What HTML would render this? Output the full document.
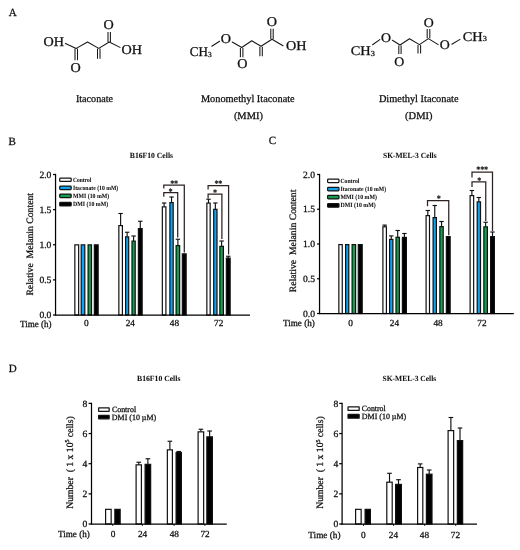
<!DOCTYPE html>
<html lang="en">
<head>
<meta charset="utf-8">
<title>Itaconate derivatives and melanin content</title>
<style>
html,body{margin:0;padding:0;background:#fff;}
body{width:520px;height:550px;overflow:hidden;}
svg{display:block;}
svg text{font-family:"Liberation Serif", serif;text-rendering:geometricPrecision;fill:#111;stroke:#111;stroke-width:0.28px;stroke-linejoin:round;}
svg text[font-weight=bold]{stroke-width:0.05px;}
</style>
</head>
<body>
<svg width="520" height="550" viewBox="0 0 520 550">
<rect x="0" y="0" width="520" height="550" fill="#ffffff"/>
<g id="panel-letters">
<text x="8.8" y="15.5" font-size="11">A</text>
<text x="8.5" y="144.5" font-size="11">B</text>
<text x="268.8" y="144.4" font-size="11">C</text>
<text x="8.8" y="371.6" font-size="11">D</text>
</g>
<g id="itaconate">
<text transform="translate(43.5,46.4) scale(1.05,1)" font-size="13.5">OH</text>
<line x1="65.4" y1="43.4" x2="76.25" y2="48.4" stroke="#151515" stroke-width="1.05" stroke-linecap="round"/>
<line x1="75.0" y1="48.6" x2="75.0" y2="60.2" stroke="#151515" stroke-width="1.05" stroke-linecap="butt"/>
<line x1="77.5" y1="48.6" x2="77.5" y2="60.2" stroke="#151515" stroke-width="1.05" stroke-linecap="butt"/>
<text transform="translate(70.5,72.0) scale(1.05,1)" font-size="13.5">O</text>
<polyline points="76.25,48.4 87.5,42.0 98.75,48.4 109.25,42.0 120.0,47.4" fill="none" stroke="#151515" stroke-width="1.05" stroke-linejoin="round" stroke-linecap="round"/>
<line x1="97.5" y1="48.6" x2="97.5" y2="58.8" stroke="#151515" stroke-width="1.05" stroke-linecap="butt"/>
<line x1="100.0" y1="48.6" x2="100.0" y2="58.8" stroke="#151515" stroke-width="1.05" stroke-linecap="butt"/>
<line x1="108.0" y1="32.0" x2="108.0" y2="42.0" stroke="#151515" stroke-width="1.05" stroke-linecap="butt"/>
<line x1="110.4" y1="32.0" x2="110.4" y2="42.0" stroke="#151515" stroke-width="1.05" stroke-linecap="butt"/>
<text transform="translate(103.45,29.4) scale(1.05,1)" font-size="13.5">O</text>
<text transform="translate(121.5,53.8) scale(1.05,1)" font-size="13.5">OH</text>
</g>
<g id="mmi">
<text transform="translate(189.75,56.0) scale(0.97,1)" font-size="13.5">CH<tspan font-size="7.6" dy="0.6">3</tspan></text>
<line x1="211.8" y1="46.2" x2="219.6" y2="41.2" stroke="#151515" stroke-width="1.05" stroke-linecap="round"/>
<text transform="translate(220.75,42.5) scale(1.05,1)" font-size="13.5">O</text>
<polyline points="232.2,42.0 241.75,47.5 251.75,40.75 261.0,46.3 272.0,39.3 283.0,45.7" fill="none" stroke="#151515" stroke-width="1.05" stroke-linejoin="round" stroke-linecap="round"/>
<line x1="240.4" y1="47.9" x2="240.4" y2="57.2" stroke="#151515" stroke-width="1.05" stroke-linecap="butt"/>
<line x1="242.9" y1="47.9" x2="242.9" y2="57.2" stroke="#151515" stroke-width="1.05" stroke-linecap="butt"/>
<text transform="translate(237.25,67.8) scale(1.05,1)" font-size="13.5">O</text>
<line x1="259.9" y1="46.8" x2="259.9" y2="56.2" stroke="#151515" stroke-width="1.05" stroke-linecap="butt"/>
<line x1="262.3" y1="46.8" x2="262.3" y2="56.2" stroke="#151515" stroke-width="1.05" stroke-linecap="butt"/>
<line x1="270.8" y1="28.8" x2="270.8" y2="39.0" stroke="#151515" stroke-width="1.05" stroke-linecap="butt"/>
<line x1="273.2" y1="28.8" x2="273.2" y2="39.0" stroke="#151515" stroke-width="1.05" stroke-linecap="butt"/>
<text transform="translate(266.75,26.3) scale(1.05,1)" font-size="13.5">O</text>
<text transform="translate(286.0,50.3) scale(1.05,1)" font-size="13.5">OH</text>
</g>
<g id="dmi">
<text transform="translate(350.75,55.1) scale(1.09,1)" font-size="13.2">CH<tspan font-size="7.6" dy="0.6">3</tspan></text>
<line x1="372.6" y1="44.8" x2="379.8" y2="39.6" stroke="#151515" stroke-width="1.05" stroke-linecap="round"/>
<text transform="translate(381.05,41.8) scale(1.05,1)" font-size="13.2">O</text>
<polyline points="392.4,40.3 400.0,45.0 409.5,38.8 419.4,44.6 428.4,38.6 438.2,44.6" fill="none" stroke="#151515" stroke-width="1.05" stroke-linejoin="round" stroke-linecap="round"/>
<line x1="398.8" y1="45.4" x2="398.8" y2="53.9" stroke="#151515" stroke-width="1.05" stroke-linecap="butt"/>
<line x1="401.1" y1="45.4" x2="401.1" y2="53.9" stroke="#151515" stroke-width="1.05" stroke-linecap="butt"/>
<text transform="translate(394.25,65.8) scale(1.05,1)" font-size="13.2">O</text>
<line x1="418.0" y1="45.0" x2="418.0" y2="53.6" stroke="#151515" stroke-width="1.05" stroke-linecap="butt"/>
<line x1="420.6" y1="45.0" x2="420.6" y2="53.6" stroke="#151515" stroke-width="1.05" stroke-linecap="butt"/>
<line x1="427.2" y1="28.9" x2="427.2" y2="38.2" stroke="#151515" stroke-width="1.05" stroke-linecap="butt"/>
<line x1="429.8" y1="28.9" x2="429.8" y2="38.2" stroke="#151515" stroke-width="1.05" stroke-linecap="butt"/>
<text transform="translate(423.65,26.6) scale(1.05,1)" font-size="13.2">O</text>
<text transform="translate(439.65,49.2) scale(1.05,1)" font-size="13.2">O</text>
<line x1="451.9" y1="44.3" x2="460.0" y2="39.4" stroke="#151515" stroke-width="1.05" stroke-linecap="round"/>
<text transform="translate(462.75,40.7) scale(1.09,1)" font-size="13.2">CH<tspan font-size="7.6" dy="0.6">3</tspan></text>
</g>
<g id="mol-names">
<text x="75.9" y="101.9" font-size="10.4" textLength="37.2" lengthAdjust="spacingAndGlyphs">Itaconate</text>
<text x="200.9" y="101.9" font-size="10.4" textLength="93.8" lengthAdjust="spacingAndGlyphs">Monomethyl Itaconate</text>
<text x="233.9" y="118.7" font-size="10.4" textLength="29.0" lengthAdjust="spacingAndGlyphs">(MMI)</text>
<text x="378.9" y="101.9" font-size="10.4" textLength="79.6" lengthAdjust="spacingAndGlyphs">Dimethyl Itaconate</text>
<text x="405.1" y="118.7" font-size="10.4" textLength="27.4" lengthAdjust="spacingAndGlyphs">(DMI)</text>
</g>
<g id="chartB">
<text x="129.8" y="158.2" font-size="7.8" font-weight="bold" textLength="43.2" lengthAdjust="spacingAndGlyphs">B16F10 Cells</text>
<rect x="74.85" y="244.85" width="3.8" height="70.15" fill="#ffffff" stroke="#111" stroke-width="1.2"/>
<rect x="81.2" y="244.85" width="3.6" height="70.15" fill="#10a3f0" stroke="#111" stroke-width="1.2"/>
<rect x="88.1" y="244.85" width="3.4" height="70.15" fill="#12a04e" stroke="#111" stroke-width="1.2"/>
<rect x="94.35" y="244.85" width="3.8" height="70.15" fill="#000000" stroke="#111" stroke-width="1.2"/>
<line x1="120.62" y1="213.5" x2="120.62" y2="225.5" stroke="#111" stroke-width="1.15" stroke-linecap="butt"/>
<line x1="118.42" y1="213.5" x2="122.82" y2="213.5" stroke="#111" stroke-width="1.15" stroke-linecap="butt"/>
<rect x="118.85" y="225.6" width="3.55" height="89.4" fill="#ffffff" stroke="#111" stroke-width="1.2"/>
<line x1="127.15" y1="232.25" x2="127.15" y2="236.75" stroke="#111" stroke-width="1.15" stroke-linecap="butt"/>
<line x1="124.95" y1="232.25" x2="129.35" y2="232.25" stroke="#111" stroke-width="1.15" stroke-linecap="butt"/>
<rect x="125.6" y="236.85" width="3.1" height="78.15" fill="#10a3f0" stroke="#111" stroke-width="1.2"/>
<line x1="133.6" y1="236.0" x2="133.6" y2="241.0" stroke="#111" stroke-width="1.15" stroke-linecap="butt"/>
<line x1="131.4" y1="236.0" x2="135.8" y2="236.0" stroke="#111" stroke-width="1.15" stroke-linecap="butt"/>
<rect x="132.0" y="241.1" width="3.2" height="73.9" fill="#12a04e" stroke="#111" stroke-width="1.2"/>
<line x1="140.28" y1="221.25" x2="140.28" y2="228.5" stroke="#111" stroke-width="1.15" stroke-linecap="butt"/>
<line x1="138.08" y1="221.25" x2="142.48" y2="221.25" stroke="#111" stroke-width="1.15" stroke-linecap="butt"/>
<rect x="138.4" y="228.6" width="3.75" height="86.4" fill="#000000" stroke="#111" stroke-width="1.2"/>
<line x1="164.12" y1="203.0" x2="164.12" y2="206.75" stroke="#111" stroke-width="1.15" stroke-linecap="butt"/>
<line x1="161.92" y1="203.0" x2="166.32" y2="203.0" stroke="#111" stroke-width="1.15" stroke-linecap="butt"/>
<rect x="162.35" y="206.85" width="3.55" height="108.15" fill="#ffffff" stroke="#111" stroke-width="1.2"/>
<line x1="171.55" y1="197.0" x2="171.55" y2="202.5" stroke="#111" stroke-width="1.15" stroke-linecap="butt"/>
<line x1="169.35" y1="197.0" x2="173.75" y2="197.0" stroke="#111" stroke-width="1.15" stroke-linecap="butt"/>
<rect x="169.9" y="202.6" width="3.3" height="112.4" fill="#10a3f0" stroke="#111" stroke-width="1.2"/>
<line x1="177.88" y1="239.25" x2="177.88" y2="245.5" stroke="#111" stroke-width="1.15" stroke-linecap="butt"/>
<line x1="175.68" y1="239.25" x2="180.08" y2="239.25" stroke="#111" stroke-width="1.15" stroke-linecap="butt"/>
<rect x="176.1" y="245.6" width="3.55" height="69.4" fill="#12a04e" stroke="#111" stroke-width="1.2"/>
<rect x="182.35" y="253.85" width="3.8" height="61.15" fill="#000000" stroke="#111" stroke-width="1.2"/>
<line x1="208.5" y1="199.25" x2="208.5" y2="203.0" stroke="#111" stroke-width="1.15" stroke-linecap="butt"/>
<line x1="206.3" y1="199.25" x2="210.7" y2="199.25" stroke="#111" stroke-width="1.15" stroke-linecap="butt"/>
<rect x="206.85" y="203.1" width="3.3" height="111.9" fill="#ffffff" stroke="#111" stroke-width="1.2"/>
<line x1="215.35" y1="203.0" x2="215.35" y2="209.25" stroke="#111" stroke-width="1.15" stroke-linecap="butt"/>
<line x1="213.15" y1="203.0" x2="217.55" y2="203.0" stroke="#111" stroke-width="1.15" stroke-linecap="butt"/>
<rect x="213.7" y="209.35" width="3.3" height="105.65" fill="#10a3f0" stroke="#111" stroke-width="1.2"/>
<line x1="221.62" y1="241.0" x2="221.62" y2="246.25" stroke="#111" stroke-width="1.15" stroke-linecap="butt"/>
<line x1="219.42" y1="241.0" x2="223.82" y2="241.0" stroke="#111" stroke-width="1.15" stroke-linecap="butt"/>
<rect x="219.85" y="246.35" width="3.55" height="68.65" fill="#12a04e" stroke="#111" stroke-width="1.2"/>
<line x1="228.25" y1="256.25" x2="228.25" y2="258.0" stroke="#111" stroke-width="1.15" stroke-linecap="butt"/>
<line x1="226.05" y1="256.25" x2="230.45" y2="256.25" stroke="#111" stroke-width="1.15" stroke-linecap="butt"/>
<rect x="226.35" y="258.1" width="3.8" height="56.9" fill="#000000" stroke="#111" stroke-width="1.2"/>
<line x1="55.55" y1="173.875" x2="55.55" y2="315.625" stroke="#000" stroke-width="1.25" stroke-linecap="butt"/>
<line x1="54.925" y1="315.0" x2="250.0" y2="315.0" stroke="#000" stroke-width="1.25" stroke-linecap="butt"/>
<line x1="53.0" y1="174.5" x2="55.55" y2="174.5" stroke="#000" stroke-width="1.25" stroke-linecap="butt"/>
<text x="51.4" y="177.6" font-size="9.6" text-anchor="end">2.0</text>
<line x1="53.0" y1="209.6" x2="55.55" y2="209.6" stroke="#000" stroke-width="1.25" stroke-linecap="butt"/>
<text x="51.4" y="212.7" font-size="9.6" text-anchor="end">1.5</text>
<line x1="53.0" y1="244.75" x2="55.55" y2="244.75" stroke="#000" stroke-width="1.25" stroke-linecap="butt"/>
<text x="51.4" y="247.85" font-size="9.6" text-anchor="end">1.0</text>
<line x1="53.0" y1="279.9" x2="55.55" y2="279.9" stroke="#000" stroke-width="1.25" stroke-linecap="butt"/>
<text x="51.4" y="283.0" font-size="9.6" text-anchor="end">0.5</text>
<line x1="53.0" y1="315.0" x2="55.55" y2="315.0" stroke="#000" stroke-width="1.25" stroke-linecap="butt"/>
<text x="51.4" y="318.1" font-size="9.6" text-anchor="end">0.0</text>
<polyline points="163.8,188.6 163.8,185.0 184.3,185.0 184.3,252.6" fill="none" stroke="#2e2322" stroke-width="1.25" stroke-linejoin="miter"/>
<polyline points="163.8,196.8 163.8,192.6 177.7,192.6 177.7,237.6" fill="none" stroke="#2e2322" stroke-width="1.25" stroke-linejoin="miter"/>
<polyline points="208.1,189.4 208.1,185.5 228.6,185.5 228.6,254.6" fill="none" stroke="#2e2322" stroke-width="1.25" stroke-linejoin="miter"/>
<polyline points="208.1,198.4 208.1,194.0 221.9,194.0 221.9,238.9" fill="none" stroke="#2e2322" stroke-width="1.25" stroke-linejoin="miter"/>
<text x="174.1" y="185.9" font-size="8.2" text-anchor="middle" font-weight="bold" letter-spacing="-0.2" style="stroke-width:0.18px;fill:#1a1212;stroke:#1a1212">**</text>
<text x="170.5" y="193.7" font-size="8.2" text-anchor="middle" font-weight="bold" letter-spacing="-0.2" style="stroke-width:0.18px;fill:#1a1212;stroke:#1a1212">*</text>
<text x="218.3" y="186.4" font-size="8.2" text-anchor="middle" font-weight="bold" letter-spacing="-0.2" style="stroke-width:0.18px;fill:#1a1212;stroke:#1a1212">**</text>
<text x="214.9" y="194.9" font-size="8.2" text-anchor="middle" font-weight="bold" letter-spacing="-0.2" style="stroke-width:0.18px;fill:#1a1212;stroke:#1a1212">*</text>
<rect x="59.73" y="178.03" width="11.45" height="3.45" rx="0.8" fill="#ffffff" stroke="#151515" stroke-width="1.25"/>
<text x="73.0" y="181.75" font-size="6.4" font-weight="bold" textLength="18.2" lengthAdjust="spacingAndGlyphs">Control</text>
<rect x="59.73" y="186.12" width="11.45" height="3.45" rx="0.8" fill="#10a3f0" stroke="#151515" stroke-width="1.25"/>
<text x="73.0" y="189.85" font-size="6.4" font-weight="bold" textLength="45.2" lengthAdjust="spacingAndGlyphs">Itaconate (10 mM)</text>
<rect x="59.73" y="194.12" width="11.45" height="3.45" rx="0.8" fill="#12a04e" stroke="#151515" stroke-width="1.25"/>
<text x="73.0" y="197.85" font-size="6.4" font-weight="bold" textLength="36.2" lengthAdjust="spacingAndGlyphs">MMI (10 mM)</text>
<rect x="59.73" y="202.32" width="11.45" height="3.65" rx="0.8" fill="#000000" stroke="#151515" stroke-width="1.25"/>
<text x="73.0" y="206.15" font-size="6.4" font-weight="bold" textLength="35.2" lengthAdjust="spacingAndGlyphs">DMI (10 mM)</text>
<text x="20.0" y="326.9" font-size="9.3" textLength="31.6" lengthAdjust="spacingAndGlyphs">Time (h)</text>
<text x="86.3" y="326.3" font-size="9.3" text-anchor="middle">0</text>
<text x="130.3" y="326.3" font-size="9.3" text-anchor="middle">24</text>
<text x="174.4" y="326.3" font-size="9.3" text-anchor="middle">48</text>
<text x="218.7" y="326.3" font-size="9.3" text-anchor="middle">72</text>
<text transform="translate(33.2,295.6) rotate(-90)" font-size="9.7" textLength="102.6" lengthAdjust="spacingAndGlyphs" xml:space="preserve">Relative  Melanin Content</text>
</g>
<g id="chartC">
<text x="383.0" y="157.8" font-size="7.8" font-weight="bold" textLength="53.6" lengthAdjust="spacingAndGlyphs">SK-MEL-3 Cells</text>
<rect x="338.85" y="244.6" width="3.4" height="68.9" fill="#ffffff" stroke="#111" stroke-width="1.2"/>
<rect x="345.6" y="244.6" width="3.2" height="68.9" fill="#10a3f0" stroke="#111" stroke-width="1.2"/>
<rect x="352.1" y="244.6" width="3.5" height="68.9" fill="#12a04e" stroke="#111" stroke-width="1.2"/>
<rect x="358.3" y="244.6" width="3.9" height="68.9" fill="#000000" stroke="#111" stroke-width="1.2"/>
<line x1="384.65" y1="225.1" x2="384.65" y2="226.7" stroke="#111" stroke-width="1.15" stroke-linecap="butt"/>
<line x1="382.45" y1="225.1" x2="386.85" y2="225.1" stroke="#111" stroke-width="1.15" stroke-linecap="butt"/>
<rect x="382.9" y="226.8" width="3.5" height="86.7" fill="#ffffff" stroke="#111" stroke-width="1.2"/>
<line x1="391.25" y1="235.9" x2="391.25" y2="239.3" stroke="#111" stroke-width="1.15" stroke-linecap="butt"/>
<line x1="389.05" y1="235.9" x2="393.45" y2="235.9" stroke="#111" stroke-width="1.15" stroke-linecap="butt"/>
<rect x="389.6" y="239.4" width="3.3" height="74.1" fill="#10a3f0" stroke="#111" stroke-width="1.2"/>
<line x1="397.7" y1="230.5" x2="397.7" y2="237.2" stroke="#111" stroke-width="1.15" stroke-linecap="butt"/>
<line x1="395.5" y1="230.5" x2="399.9" y2="230.5" stroke="#111" stroke-width="1.15" stroke-linecap="butt"/>
<rect x="396.0" y="237.3" width="3.4" height="76.2" fill="#12a04e" stroke="#111" stroke-width="1.2"/>
<line x1="404.4" y1="233.5" x2="404.4" y2="237.3" stroke="#111" stroke-width="1.15" stroke-linecap="butt"/>
<line x1="402.2" y1="233.5" x2="406.6" y2="233.5" stroke="#111" stroke-width="1.15" stroke-linecap="butt"/>
<rect x="402.4" y="237.4" width="4.0" height="76.1" fill="#000000" stroke="#111" stroke-width="1.2"/>
<line x1="427.8" y1="210.5" x2="427.8" y2="215.5" stroke="#111" stroke-width="1.15" stroke-linecap="butt"/>
<line x1="425.6" y1="210.5" x2="430.0" y2="210.5" stroke="#111" stroke-width="1.15" stroke-linecap="butt"/>
<rect x="426.1" y="215.6" width="3.4" height="97.9" fill="#ffffff" stroke="#111" stroke-width="1.2"/>
<line x1="434.75" y1="205.5" x2="434.75" y2="217.5" stroke="#111" stroke-width="1.15" stroke-linecap="butt"/>
<line x1="432.55" y1="205.5" x2="436.95" y2="205.5" stroke="#111" stroke-width="1.15" stroke-linecap="butt"/>
<rect x="433.1" y="217.6" width="3.3" height="95.9" fill="#10a3f0" stroke="#111" stroke-width="1.2"/>
<line x1="441.52" y1="221.5" x2="441.52" y2="226.5" stroke="#111" stroke-width="1.15" stroke-linecap="butt"/>
<line x1="439.32" y1="221.5" x2="443.72" y2="221.5" stroke="#111" stroke-width="1.15" stroke-linecap="butt"/>
<rect x="439.85" y="226.6" width="3.35" height="86.9" fill="#12a04e" stroke="#111" stroke-width="1.2"/>
<rect x="446.35" y="236.6" width="3.8" height="76.9" fill="#000000" stroke="#111" stroke-width="1.2"/>
<line x1="471.88" y1="190.5" x2="471.88" y2="195.5" stroke="#111" stroke-width="1.15" stroke-linecap="butt"/>
<line x1="469.68" y1="190.5" x2="474.08" y2="190.5" stroke="#111" stroke-width="1.15" stroke-linecap="butt"/>
<rect x="470.1" y="195.6" width="3.55" height="117.9" fill="#ffffff" stroke="#111" stroke-width="1.2"/>
<line x1="478.85" y1="197.5" x2="478.85" y2="201.75" stroke="#111" stroke-width="1.15" stroke-linecap="butt"/>
<line x1="476.65" y1="197.5" x2="481.05" y2="197.5" stroke="#111" stroke-width="1.15" stroke-linecap="butt"/>
<rect x="477.2" y="201.85" width="3.3" height="111.65" fill="#10a3f0" stroke="#111" stroke-width="1.2"/>
<line x1="485.62" y1="222.25" x2="485.62" y2="226.75" stroke="#111" stroke-width="1.15" stroke-linecap="butt"/>
<line x1="483.42" y1="222.25" x2="487.82" y2="222.25" stroke="#111" stroke-width="1.15" stroke-linecap="butt"/>
<rect x="483.85" y="226.85" width="3.55" height="86.65" fill="#12a04e" stroke="#111" stroke-width="1.2"/>
<line x1="492.5" y1="232.0" x2="492.5" y2="236.5" stroke="#111" stroke-width="1.15" stroke-linecap="butt"/>
<line x1="490.3" y1="232.0" x2="494.7" y2="232.0" stroke="#111" stroke-width="1.15" stroke-linecap="butt"/>
<rect x="490.6" y="236.6" width="3.8" height="76.9" fill="#000000" stroke="#111" stroke-width="1.2"/>
<line x1="319.55" y1="173.875" x2="319.55" y2="314.125" stroke="#000" stroke-width="1.25" stroke-linecap="butt"/>
<line x1="318.925" y1="313.5" x2="513.8" y2="313.5" stroke="#000" stroke-width="1.25" stroke-linecap="butt"/>
<line x1="317.1" y1="174.5" x2="319.55" y2="174.5" stroke="#000" stroke-width="1.25" stroke-linecap="butt"/>
<text x="315.0" y="177.6" font-size="9.6" text-anchor="end">2.0</text>
<line x1="317.1" y1="209.25" x2="319.55" y2="209.25" stroke="#000" stroke-width="1.25" stroke-linecap="butt"/>
<text x="315.0" y="212.35" font-size="9.6" text-anchor="end">1.5</text>
<line x1="317.1" y1="244.0" x2="319.55" y2="244.0" stroke="#000" stroke-width="1.25" stroke-linecap="butt"/>
<text x="315.0" y="247.1" font-size="9.6" text-anchor="end">1.0</text>
<line x1="317.1" y1="278.75" x2="319.55" y2="278.75" stroke="#000" stroke-width="1.25" stroke-linecap="butt"/>
<text x="315.0" y="281.85" font-size="9.6" text-anchor="end">0.5</text>
<line x1="317.1" y1="313.5" x2="319.55" y2="313.5" stroke="#000" stroke-width="1.25" stroke-linecap="butt"/>
<text x="315.0" y="316.6" font-size="9.6" text-anchor="end">0.0</text>
<polyline points="427.5,206.2 427.5,200.6 448.75,200.6 448.75,235.2" fill="none" stroke="#2e2322" stroke-width="1.25" stroke-linejoin="miter"/>
<text x="438.7" y="200.9" font-size="8.2" text-anchor="middle" font-weight="bold" letter-spacing="-0.2" style="stroke-width:0.18px;fill:#1a1212;stroke:#1a1212">*</text>
<polyline points="472.0,177.5 472.0,172.2 492.5,172.2 492.5,231.0" fill="none" stroke="#2e2322" stroke-width="1.25" stroke-linejoin="miter"/>
<polyline points="472.0,187.0 472.0,181.9 485.75,181.9 485.75,221.0" fill="none" stroke="#2e2322" stroke-width="1.25" stroke-linejoin="miter"/>
<text x="482.1" y="172.1" font-size="8.2" text-anchor="middle" font-weight="bold" letter-spacing="-0.2" style="stroke-width:0.18px;fill:#1a1212;stroke:#1a1212">***</text>
<text x="479.2" y="182.7" font-size="8.2" text-anchor="middle" font-weight="bold" letter-spacing="-0.2" style="stroke-width:0.18px;fill:#1a1212;stroke:#1a1212">*</text>
<rect x="327.62" y="179.12" width="11.35" height="3.45" rx="0.8" fill="#ffffff" stroke="#151515" stroke-width="1.25"/>
<text x="340.5" y="182.85" font-size="6.4" font-weight="bold" textLength="18.8" lengthAdjust="spacingAndGlyphs">Control</text>
<rect x="327.62" y="187.43" width="11.35" height="3.45" rx="0.8" fill="#10a3f0" stroke="#151515" stroke-width="1.25"/>
<text x="340.5" y="191.15" font-size="6.4" font-weight="bold" textLength="45.6" lengthAdjust="spacingAndGlyphs">Itaconate (10 mM)</text>
<rect x="327.62" y="195.43" width="11.35" height="3.45" rx="0.8" fill="#12a04e" stroke="#151515" stroke-width="1.25"/>
<text x="340.5" y="199.15" font-size="6.4" font-weight="bold" textLength="36.4" lengthAdjust="spacingAndGlyphs">MMI (10 mM)</text>
<rect x="327.62" y="203.53" width="11.35" height="3.65" rx="0.8" fill="#000000" stroke="#151515" stroke-width="1.25"/>
<text x="340.5" y="207.35" font-size="6.4" font-weight="bold" textLength="35.2" lengthAdjust="spacingAndGlyphs">DMI (10 mM)</text>
<text x="283.0" y="325.9" font-size="9.3" textLength="31.8" lengthAdjust="spacingAndGlyphs">Time (h)</text>
<text x="350.5" y="325.6" font-size="9.3" text-anchor="middle">0</text>
<text x="394.4" y="325.6" font-size="9.3" text-anchor="middle">24</text>
<text x="438.1" y="325.6" font-size="9.3" text-anchor="middle">48</text>
<text x="482.0" y="325.6" font-size="9.3" text-anchor="middle">72</text>
<text transform="translate(296.1,292.2) rotate(-90)" font-size="9.7" textLength="102.6" lengthAdjust="spacingAndGlyphs" xml:space="preserve">Relative  Melanin Content</text>
</g>
<g id="chartD1">
<text x="137.0" y="381.2" font-size="7.8" font-weight="bold" textLength="43.4" lengthAdjust="spacingAndGlyphs">B16F10 Cells</text>
<rect x="105.6" y="509.35" width="5.55" height="14.65" fill="#ffffff" stroke="#111" stroke-width="1.2"/>
<rect x="114.85" y="509.35" width="5.3" height="14.65" fill="#000000" stroke="#111" stroke-width="1.2"/>
<line x1="138.75" y1="462.25" x2="138.75" y2="464.75" stroke="#111" stroke-width="1.15" stroke-linecap="butt"/>
<line x1="136.45" y1="462.25" x2="141.05" y2="462.25" stroke="#111" stroke-width="1.15" stroke-linecap="butt"/>
<rect x="136.1" y="464.85" width="5.3" height="59.15" fill="#ffffff" stroke="#111" stroke-width="1.2"/>
<line x1="147.88" y1="458.75" x2="147.88" y2="464.25" stroke="#111" stroke-width="1.15" stroke-linecap="butt"/>
<line x1="145.58" y1="458.75" x2="150.18" y2="458.75" stroke="#111" stroke-width="1.15" stroke-linecap="butt"/>
<rect x="145.1" y="464.35" width="5.55" height="59.65" fill="#000000" stroke="#111" stroke-width="1.2"/>
<line x1="169.88" y1="441.25" x2="169.88" y2="449.75" stroke="#111" stroke-width="1.15" stroke-linecap="butt"/>
<line x1="167.58" y1="441.25" x2="172.18" y2="441.25" stroke="#111" stroke-width="1.15" stroke-linecap="butt"/>
<rect x="167.35" y="449.85" width="5.05" height="74.15" fill="#ffffff" stroke="#111" stroke-width="1.2"/>
<line x1="178.75" y1="451.5" x2="178.75" y2="452.5" stroke="#111" stroke-width="1.15" stroke-linecap="butt"/>
<line x1="176.45" y1="451.5" x2="181.05" y2="451.5" stroke="#111" stroke-width="1.15" stroke-linecap="butt"/>
<rect x="176.1" y="452.6" width="5.3" height="71.4" fill="#000000" stroke="#111" stroke-width="1.2"/>
<line x1="200.88" y1="429.25" x2="200.88" y2="431.75" stroke="#111" stroke-width="1.15" stroke-linecap="butt"/>
<line x1="198.58" y1="429.25" x2="203.18" y2="429.25" stroke="#111" stroke-width="1.15" stroke-linecap="butt"/>
<rect x="198.1" y="431.85" width="5.55" height="92.15" fill="#ffffff" stroke="#111" stroke-width="1.2"/>
<line x1="209.62" y1="431.0" x2="209.62" y2="436.75" stroke="#111" stroke-width="1.15" stroke-linecap="butt"/>
<line x1="207.32" y1="431.0" x2="211.92" y2="431.0" stroke="#111" stroke-width="1.15" stroke-linecap="butt"/>
<rect x="206.85" y="436.85" width="5.55" height="87.15" fill="#000000" stroke="#111" stroke-width="1.2"/>
<line x1="91.5" y1="402.775" x2="91.5" y2="524.625" stroke="#000" stroke-width="1.25" stroke-linecap="butt"/>
<line x1="90.875" y1="524.0" x2="226.8" y2="524.0" stroke="#000" stroke-width="1.25" stroke-linecap="butt"/>
<line x1="88.6" y1="403.4" x2="91.5" y2="403.4" stroke="#000" stroke-width="1.25" stroke-linecap="butt"/>
<text x="87.3" y="406.5" font-size="9.6" text-anchor="end">8</text>
<line x1="88.6" y1="433.55" x2="91.5" y2="433.55" stroke="#000" stroke-width="1.25" stroke-linecap="butt"/>
<text x="87.3" y="436.65" font-size="9.6" text-anchor="end">6</text>
<line x1="88.6" y1="463.7" x2="91.5" y2="463.7" stroke="#000" stroke-width="1.25" stroke-linecap="butt"/>
<text x="87.3" y="466.8" font-size="9.6" text-anchor="end">4</text>
<line x1="88.6" y1="493.85" x2="91.5" y2="493.85" stroke="#000" stroke-width="1.25" stroke-linecap="butt"/>
<text x="87.3" y="496.95" font-size="9.6" text-anchor="end">2</text>
<line x1="88.6" y1="524.0" x2="91.5" y2="524.0" stroke="#000" stroke-width="1.25" stroke-linecap="butt"/>
<text x="87.3" y="527.1" font-size="9.6" text-anchor="end">0</text>
<rect x="98.62" y="407.82" width="10.55" height="3.55" rx="0.3" fill="#ffffff" stroke="#151515" stroke-width="1.25"/>
<rect x="98.62" y="415.32" width="10.55" height="3.55" rx="0.3" fill="#000000" stroke="#151515" stroke-width="1.25"/>
<text x="111.9" y="412.1" font-size="8.0" textLength="24.2" lengthAdjust="spacingAndGlyphs">Control</text>
<text x="111.8" y="420.1" font-size="8.0" textLength="44.4" lengthAdjust="spacingAndGlyphs">DMI (10 µM)</text>
<text x="58.0" y="537.0" font-size="9.3" textLength="31.8" lengthAdjust="spacingAndGlyphs">Time (h)</text>
<text x="113.0" y="537.0" font-size="9.3" text-anchor="middle">0</text>
<line x1="112.8" y1="524.0" x2="112.8" y2="525.8" stroke="#000" stroke-width="1.0" stroke-linecap="butt"/>
<text x="142.6" y="537.0" font-size="9.3" text-anchor="middle">24</text>
<line x1="142.4" y1="524.0" x2="142.4" y2="525.8" stroke="#000" stroke-width="1.0" stroke-linecap="butt"/>
<text x="174.3" y="537.0" font-size="9.3" text-anchor="middle">48</text>
<line x1="174.10000000000002" y1="524.0" x2="174.10000000000002" y2="525.8" stroke="#000" stroke-width="1.0" stroke-linecap="butt"/>
<text x="205.1" y="537.0" font-size="9.3" text-anchor="middle">72</text>
<line x1="204.9" y1="524.0" x2="204.9" y2="525.8" stroke="#000" stroke-width="1.0" stroke-linecap="butt"/>
<text transform="translate(72.6,508.8) rotate(-90)" font-size="9.7" textLength="92.6" lengthAdjust="spacingAndGlyphs" xml:space="preserve">Number  ( 1 x 10<tspan font-size="6" dy="-3.2">5</tspan><tspan dy="3.2"> cells)</tspan></text>
</g>
<g id="chartD2">
<text x="382.6" y="381.0" font-size="7.8" font-weight="bold" textLength="53.6" lengthAdjust="spacingAndGlyphs">SK-MEL-3 Cells</text>
<rect x="355.6" y="509.35" width="5.55" height="14.65" fill="#ffffff" stroke="#111" stroke-width="1.2"/>
<rect x="365.1" y="509.35" width="5.3" height="14.65" fill="#000000" stroke="#111" stroke-width="1.2"/>
<line x1="389.5" y1="473.3" x2="389.5" y2="482.1" stroke="#111" stroke-width="1.15" stroke-linecap="butt"/>
<line x1="387.2" y1="473.3" x2="391.8" y2="473.3" stroke="#111" stroke-width="1.15" stroke-linecap="butt"/>
<rect x="386.8" y="482.2" width="5.4" height="41.8" fill="#ffffff" stroke="#111" stroke-width="1.2"/>
<line x1="398.5" y1="479.7" x2="398.5" y2="484.3" stroke="#111" stroke-width="1.15" stroke-linecap="butt"/>
<line x1="396.2" y1="479.7" x2="400.8" y2="479.7" stroke="#111" stroke-width="1.15" stroke-linecap="butt"/>
<rect x="395.6" y="484.4" width="5.8" height="39.6" fill="#000000" stroke="#111" stroke-width="1.2"/>
<line x1="420.2" y1="463.9" x2="420.2" y2="467.4" stroke="#111" stroke-width="1.15" stroke-linecap="butt"/>
<line x1="417.9" y1="463.9" x2="422.5" y2="463.9" stroke="#111" stroke-width="1.15" stroke-linecap="butt"/>
<rect x="417.6" y="467.5" width="5.2" height="56.5" fill="#ffffff" stroke="#111" stroke-width="1.2"/>
<line x1="429.2" y1="470.0" x2="429.2" y2="474.1" stroke="#111" stroke-width="1.15" stroke-linecap="butt"/>
<line x1="426.9" y1="470.0" x2="431.5" y2="470.0" stroke="#111" stroke-width="1.15" stroke-linecap="butt"/>
<rect x="426.4" y="474.2" width="5.6" height="49.8" fill="#000000" stroke="#111" stroke-width="1.2"/>
<line x1="450.88" y1="417.5" x2="450.88" y2="430.5" stroke="#111" stroke-width="1.15" stroke-linecap="butt"/>
<line x1="448.58" y1="417.5" x2="453.18" y2="417.5" stroke="#111" stroke-width="1.15" stroke-linecap="butt"/>
<rect x="448.1" y="430.6" width="5.55" height="93.4" fill="#ffffff" stroke="#111" stroke-width="1.2"/>
<line x1="460.0" y1="428.0" x2="460.0" y2="440.5" stroke="#111" stroke-width="1.15" stroke-linecap="butt"/>
<line x1="457.7" y1="428.0" x2="462.3" y2="428.0" stroke="#111" stroke-width="1.15" stroke-linecap="butt"/>
<rect x="457.35" y="440.6" width="5.3" height="83.4" fill="#000000" stroke="#111" stroke-width="1.2"/>
<line x1="342.1" y1="402.775" x2="342.1" y2="524.625" stroke="#000" stroke-width="1.25" stroke-linecap="butt"/>
<line x1="341.475" y1="524.0" x2="477.0" y2="524.0" stroke="#000" stroke-width="1.25" stroke-linecap="butt"/>
<line x1="339.2" y1="403.4" x2="342.1" y2="403.4" stroke="#000" stroke-width="1.25" stroke-linecap="butt"/>
<text x="338.2" y="406.5" font-size="9.6" text-anchor="end">8</text>
<line x1="339.2" y1="433.55" x2="342.1" y2="433.55" stroke="#000" stroke-width="1.25" stroke-linecap="butt"/>
<text x="338.2" y="436.65" font-size="9.6" text-anchor="end">6</text>
<line x1="339.2" y1="463.7" x2="342.1" y2="463.7" stroke="#000" stroke-width="1.25" stroke-linecap="butt"/>
<text x="338.2" y="466.8" font-size="9.6" text-anchor="end">4</text>
<line x1="339.2" y1="493.85" x2="342.1" y2="493.85" stroke="#000" stroke-width="1.25" stroke-linecap="butt"/>
<text x="338.2" y="496.95" font-size="9.6" text-anchor="end">2</text>
<line x1="339.2" y1="524.0" x2="342.1" y2="524.0" stroke="#000" stroke-width="1.25" stroke-linecap="butt"/>
<text x="338.2" y="527.1" font-size="9.6" text-anchor="end">0</text>
<rect x="348.02" y="406.82" width="11.15" height="3.65" rx="0.3" fill="#ffffff" stroke="#151515" stroke-width="1.25"/>
<rect x="348.02" y="414.43" width="11.15" height="3.75" rx="0.3" fill="#000000" stroke="#151515" stroke-width="1.25"/>
<text x="361.8" y="411.2" font-size="8.0" textLength="23.8" lengthAdjust="spacingAndGlyphs">Control</text>
<text x="361.8" y="418.9" font-size="8.0" textLength="44.4" lengthAdjust="spacingAndGlyphs">DMI (10 µM)</text>
<text x="308.3" y="538.1" font-size="9.3" textLength="32.2" lengthAdjust="spacingAndGlyphs">Time (h)</text>
<text x="363.3" y="537.5" font-size="9.3" text-anchor="middle">0</text>
<line x1="363.5" y1="524.0" x2="363.5" y2="525.8" stroke="#000" stroke-width="1.0" stroke-linecap="butt"/>
<text x="393.4" y="537.5" font-size="9.3" text-anchor="middle">24</text>
<line x1="393.59999999999997" y1="524.0" x2="393.59999999999997" y2="525.8" stroke="#000" stroke-width="1.0" stroke-linecap="butt"/>
<text x="424.5" y="537.5" font-size="9.3" text-anchor="middle">48</text>
<line x1="424.7" y1="524.0" x2="424.7" y2="525.8" stroke="#000" stroke-width="1.0" stroke-linecap="butt"/>
<text x="455.5" y="537.5" font-size="9.3" text-anchor="middle">72</text>
<line x1="455.7" y1="524.0" x2="455.7" y2="525.8" stroke="#000" stroke-width="1.0" stroke-linecap="butt"/>
<text transform="translate(323.4,508.8) rotate(-90)" font-size="9.7" textLength="92.6" lengthAdjust="spacingAndGlyphs" xml:space="preserve">Number  ( 1 x 10<tspan font-size="6" dy="-3.2">5</tspan><tspan dy="3.2"> cells)</tspan></text>
</g>
</svg>
</body>
</html>
